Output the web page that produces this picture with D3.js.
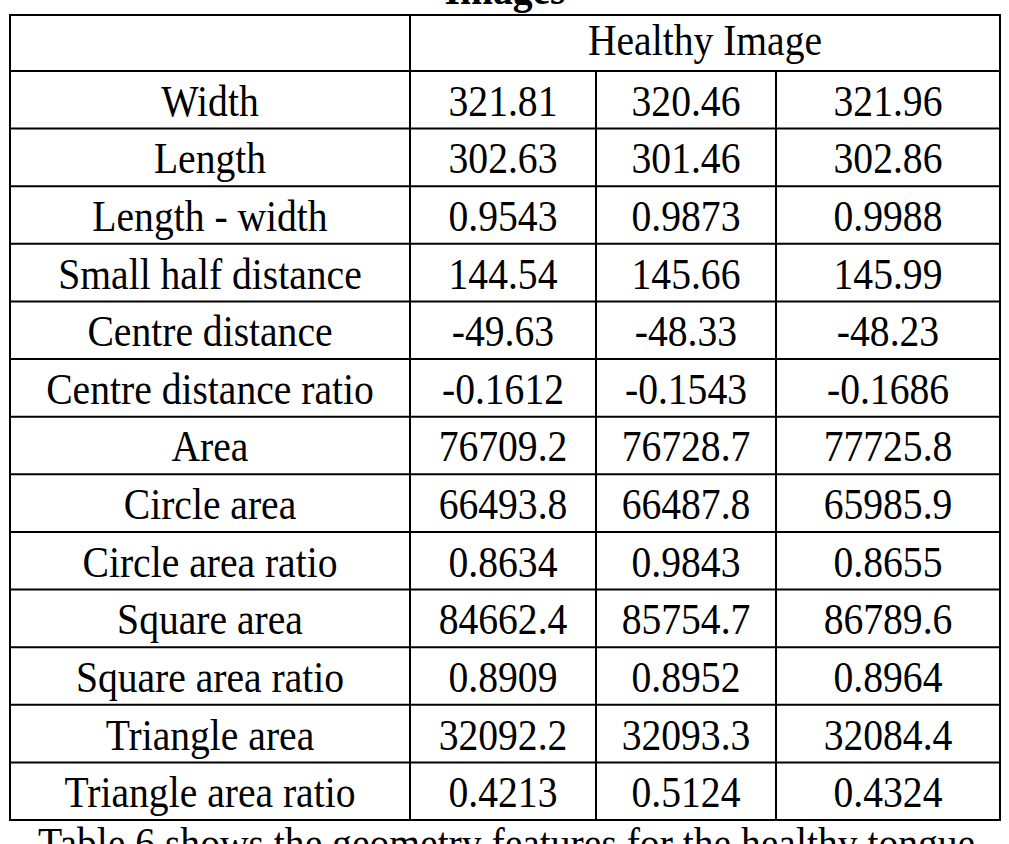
<!DOCTYPE html>
<html><head><meta charset="utf-8">
<script src="https://cdn.jsdelivr.net/npm/d3@7"></script>
<style>body{margin:0;background:#fff;overflow:hidden}</style>
</head><body>
<script>
const title = "Images";
const header = "Healthy Image";
const rowLabels = ["Width","Length","Length - width","Small half distance","Centre distance","Centre distance ratio","Area","Circle area","Circle area ratio","Square area","Square area ratio","Triangle area","Triangle area ratio"];
const col1 = ["321.81","302.63","0.9543","144.54","-49.63","-0.1612","76709.2","66493.8","0.8634","84662.4","0.8909","32092.2","0.4213"];
const col2 = ["320.46","301.46","0.9873","145.66","-48.33","-0.1543","76728.7","66487.8","0.9843","85754.7","0.8952","32093.3","0.5124"];
const col3 = ["321.96","302.86","0.9988","145.99","-48.23","-0.1686","77725.8","65985.9","0.8655","86789.6","0.8964","32084.4","0.4324"];
const caption = "Table 6 shows the geometry features for the healthy tongue";

const svg = d3.select("body").append("svg").attr("width",1009).attr("height",844);
const font = "'Liberation Serif','Times New Roman',serif";
const FS = 45, SX = 0.88;
const colEdges = [10,410,596,776,1000];
const y = d3.scaleLinear().domain([0,13]).range([71,820]);
const cols = [rowLabels,col1,col2,col3];

function txt(parent,x,yy,s,anchor,bold){
  const sx = x/SX;
  return parent.append("text").attr("transform",`scale(${SX},1)`).attr("x",sx).attr("y",yy)
    .attr("text-anchor",anchor||"middle").attr("font-family",font).attr("font-size",FS)
    .attr("font-weight",bold?"bold":"normal").text(s);
}

txt(svg,505,4,title,"middle",true);

const g = svg.append("g").attr("stroke","#000").attr("stroke-width",2);
g.append("rect").attr("x",10).attr("y",15).attr("width",990).attr("height",805).attr("fill","none");
g.append("line").attr("x1",410).attr("x2",410).attr("y1",15).attr("y2",820);
g.append("line").attr("x1",10).attr("x2",1000).attr("y1",71).attr("y2",71);
[596,776].forEach(x=>g.append("line").attr("x1",x).attr("x2",x).attr("y1",71).attr("y2",820));
d3.range(1,13).forEach(i=>g.append("line").attr("x1",10).attr("x2",1000).attr("y1",y(i)).attr("y2",y(i)));

txt(svg,705,55,header);

cols.forEach((c,ci)=>{
  const cx=(colEdges[ci]+colEdges[ci+1])/2;
  c.forEach((d,i)=>txt(svg,cx,y(i+0.5)+16,d));
});

txt(svg,38,858,caption,"start");
</script>
</body></html>
